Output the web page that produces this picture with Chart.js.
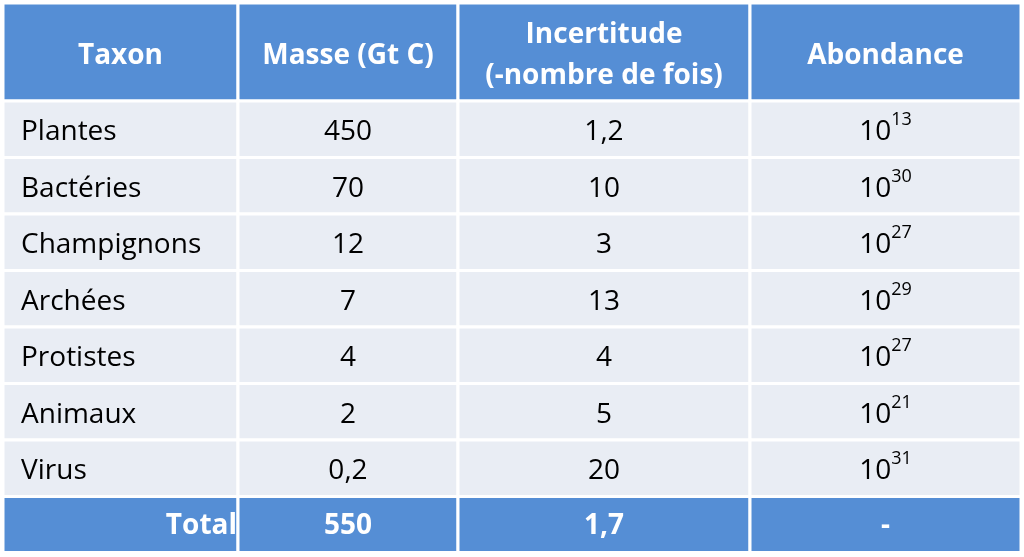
<!DOCTYPE html>
<html><head><meta charset="utf-8">
<script src="https://cdn.jsdelivr.net/npm/chart.js@4"></script>
<style>html,body{margin:0;padding:0;background:#fff}#w{width:1024px;height:557px}</style>
</head><body><div id="w"><canvas id="c"></canvas></div>
<script>
const headers = ["Taxon", "Masse (Gt C)", "Incertitude\n(-nombre de fois)", "Abondance"];
const taxa = ["Plantes","Bactéries","Champignons","Archées","Protistes","Animaux","Virus"];
const masses = ["450","70","12","7","4","2","0,2"];
const uncertainty = ["1,2","10","3","13","4","5","20"];
const abundanceExp = ["13","30","27","29","27","21","31"];
const totalRow = ["Total","550","1,7","-"];

// layout (table units)
const colEdges = [0, 235, 455, 747, 1018];
const headerH = 98, rowH = 56.5, totalH = 56;
const HEAD = "#558ED5", BODY = "#E9EDF4", FONT = "'Open Sans', 'Liberation Sans', sans-serif";

const tablePlugin = {
  id: "table",
  afterDraw(chart) {
    const ctx = chart.ctx, xs = chart.scales.x, ys = chart.scales.y;
    const X = v => xs.getPixelForValue(v), Y = v => ys.getPixelForValue(v);
    const rowTops = [0, headerH];
    for (let i = 0; i < taxa.length; i++) rowTops.push(headerH + (i + 1) * rowH);
    rowTops.push(rowTops[rowTops.length - 1] + totalH);
    const nRows = rowTops.length - 1;
    ctx.save();
    for (let r = 0; r < nRows; r++) {
      const blue = r === 0 || r === nRows - 1;
      for (let c = 0; c < 4; c++) {
        const x0 = X(colEdges[c]), x1 = X(colEdges[c + 1]);
        const y0 = Y(rowTops[r]), y1 = Y(rowTops[r + 1]);
        ctx.fillStyle = blue ? HEAD : BODY;
        ctx.fillRect(x0, y0, x1 - x0, y1 - y0);
        ctx.strokeStyle = "#fff"; ctx.lineWidth = 3;
        ctx.strokeRect(x0, y0, x1 - x0, y1 - y0);
        const cy = (y0 + y1) / 2, cx = (x0 + x1) / 2;
        ctx.textBaseline = "middle";
        if (r === 0) {
          ctx.fillStyle = "#fff"; ctx.font = "bold 28px " + FONT; ctx.textAlign = "center";
          const lines = headers[c].split("\n");
          lines.forEach((t, i) => ctx.fillText(t, cx, cy + 4 + (i - (lines.length - 1) / 2) * 41));
        } else if (r === nRows - 1) {
          ctx.fillStyle = "#fff"; ctx.font = "bold 28px " + FONT;
          if (c === 0) { ctx.textAlign = "right"; ctx.fillText(totalRow[0], x1 - 1, cy + 2); }
          else { ctx.textAlign = "center"; ctx.fillText(totalRow[c], cx, cy + 2); }
        } else {
          const i = r - 1;
          ctx.fillStyle = "#000"; ctx.font = "28px " + FONT;
          if (c === 0) { ctx.textAlign = "left"; ctx.fillText(taxa[i], x0 + 18, cy + 3); }
          else if (c === 1) { ctx.textAlign = "center"; ctx.fillText(masses[i], cx, cy + 3); }
          else if (c === 2) { ctx.textAlign = "center"; ctx.fillText(uncertainty[i], cx, cy + 3); }
          else {
            const base = "10", sup = abundanceExp[i];
            ctx.font = "28px " + FONT; const wb = ctx.measureText(base).width;
            ctx.font = "18px " + FONT; const ws = ctx.measureText(sup).width;
            const sx = cx - (wb + ws) / 2;
            ctx.textAlign = "left";
            ctx.font = "28px " + FONT; ctx.fillText(base, sx, cy + 3);
            ctx.font = "18px " + FONT; ctx.fillText(sup, sx + wb, cy - 9);
          }
        }
      }
    }
    ctx.restore();
  }
};

new Chart(document.getElementById("c"), {
  type: "scatter",
  data: { datasets: [{ data: [] }] },
  options: {
    responsive: true, maintainAspectRatio: false, animation: false,
    layout: { padding: { left: 3, right: 3, top: 3, bottom: 4 } },
    plugins: { legend: { display: false }, tooltip: { enabled: false } },
    scales: {
      x: { type: "linear", min: 0, max: 1018, display: false },
      y: { type: "linear", min: 0, max: 550, reverse: true, display: false }
    }
  },
  plugins: [tablePlugin]
});
</script></body></html>
